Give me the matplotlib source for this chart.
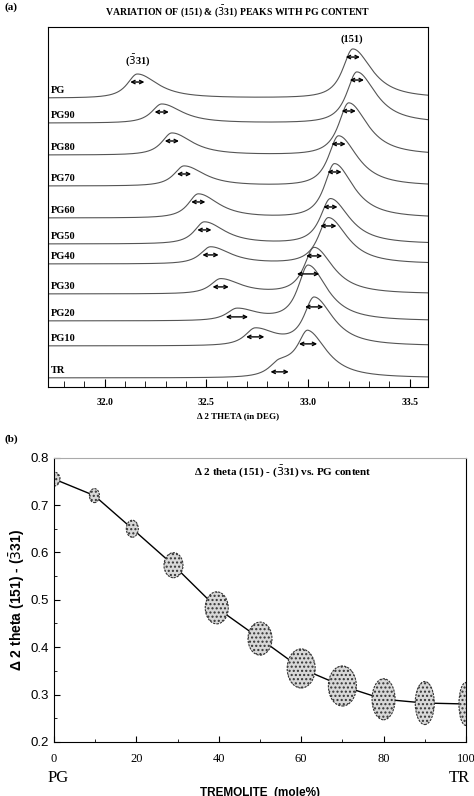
import numpy as np
import matplotlib
matplotlib.use("Agg")
import matplotlib.pyplot as plt
from matplotlib.patches import Ellipse
from matplotlib.ticker import MultipleLocator

# ---- panel (a) data ----
samples = ["PG", "PG90", "PG80", "PG70", "PG60", "PG50", "PG40", "PG30", "PG20", "PG10", "TR"]
baselines = [289, 264, 232, 201, 169, 143, 123, 93, 66, 41, 9]
pos331 = [32.16, 32.28, 32.33, 32.39, 32.46, 32.49, 32.52, 32.57, 32.65, 32.74, 32.86]
h331 = [24, 19, 22, 20, 24, 22, 17, 15, 12, 17, 14]
pos151 = [33.22, 33.24, 33.20, 33.15, 33.13, 33.11, 33.10, 33.03, 33.00, 33.03, 33.00]
h151 = [49, 51, 52, 50, 54, 45, 46, 46, 55, 47, 42]
arrow_w = [0.07, 0.07, 0.07, 0.07, 0.07, 0.07, 0.08, 0.08, 0.11, 0.09, 0.09]

# ---- panel (b) data ----
tremolite = [0, 9.8, 19, 29, 39.5, 50, 60, 70, 80, 90, 100]
delta = [0.755, 0.72, 0.65, 0.573, 0.483, 0.418, 0.355, 0.318, 0.29, 0.282, 0.28]
ell_w_px = [12, 10, 12, 19, 23, 24, 28, 28, 23, 19, 14]
ell_h_px = [14, 14, 17, 25, 32, 33, 39, 40, 41, 43, 43]

serif = "Liberation Serif"
plt.rcParams["hatch.color"] = "#aaaaaa"
fig = plt.figure(figsize=(4.74, 7.96), dpi=100)

# ---------- (a) ----------
ax = fig.add_axes([0.101, 0.514, 0.802, 0.452])
x = np.linspace(31.72, 33.59, 800)

def peak(x, c, h, wl, wr):
    w = np.where(x < c, wl, wr)
    return h / (1 + ((x - c) / w) ** 2) ** 1.3

for i, s in enumerate(samples):
    y = baselines[i] + peak(x, pos331[i], h331[i], 0.07, 0.14) + peak(x, pos151[i], h151[i], 0.07, 0.13)
    ax.plot(x, y, color="#555555", lw=0.8)
    ax.text(31.735, baselines[i] + 5, s, fontsize=7.5, fontweight="bold", family=serif)
    for c, h in ((pos331[i], h331[i]), (pos151[i], h151[i])):
        yy = baselines[i] + h - 8
        ax.annotate("", xy=(c - arrow_w[i] / 2, yy), xytext=(c + arrow_w[i] / 2, yy),
                    arrowprops=dict(arrowstyle="<->", color="black", lw=1.0, mutation_scale=6,
                                    shrinkA=0, shrinkB=0))
ax.text(pos331[0], baselines[0] + h331[0] + 10, "($\\bar{3}$31)", ha="center", fontsize=7.5, fontweight="bold", family=serif)
ax.text(pos151[0] - 0.005, baselines[0] + h151[0] + 7, "(151)", ha="center", fontsize=7.5, fontweight="bold", family=serif)
ax.set_xlim(31.72, 33.59)
ax.set_ylim(0, 360)
ax.set_yticks([])
ax.xaxis.set_minor_locator(MultipleLocator(0.1))
ax.set_xticks([32.0, 32.5, 33.0, 33.5])
ax.set_xticklabels(["32.0", "32.5", "33.0", "33.5"], fontsize=7, fontweight="bold", family=serif)
ax.tick_params(axis="x", which="both", direction="in", length=4, top=False, pad=8)
ax.tick_params(axis="x", which="major", length=6)
ax.set_xlabel("Δ 2 THETA (in DEG)", fontsize=6.5, fontweight="bold", family=serif, labelpad=4)
ax.set_title("VARIATION OF (151) & ($\\bar{3}$31) PEAKS WITH PG CONTENT", fontsize=7, fontweight="bold", family=serif, pad=9)
for sp in ax.spines.values():
    sp.set_linewidth(0.8)
fig.text(0.01, 0.988, "(a)", fontsize=8, fontweight="bold", family=serif)

# ---------- (b) ----------
bx = fig.add_axes([0.114, 0.068, 0.869, 0.357])
bx.plot(tremolite, delta, color="black", lw=1.0, zorder=1)
for xi, yi, wp, hp in zip(tremolite, delta, ell_w_px, ell_h_px):
    e = Ellipse((xi, yi), wp / 4.12, hp / 473.0, facecolor="#d8d8d8", edgecolor="#333333",
                lw=0.8, ls=(0, (2, 1)), hatch="....", zorder=2, clip_on=True)
    bx.add_patch(e)
bx.set_xlim(0, 100)
bx.set_ylim(0.2, 0.8)
bx.set_xticks([0, 20, 40, 60, 80, 100])
bx.set_yticks([0.2, 0.3, 0.4, 0.5, 0.6, 0.7, 0.8])
bx.set_xticklabels(["0", "20", "40", "60", "80", "100"], fontsize=9, family=serif)
bx.set_yticklabels(["0.2", "0.3", "0.4", "0.5", "0.6", "0.7", "0.8"], fontsize=9.5, family="Liberation Sans")
bx.xaxis.set_minor_locator(MultipleLocator(10))
bx.yaxis.set_minor_locator(MultipleLocator(0.05))
bx.tick_params(which="both", direction="in", top=False, right=False)
bx.tick_params(axis="x", which="major", length=4, pad=8)
bx.tick_params(axis="y", which="major", length=4)
bx.tick_params(which="minor", length=2.5)
bx.set_ylabel("Δ 2 theta (151) - ($\\bar{3}$31)", fontsize=10, fontweight="bold", family="Liberation Sans", labelpad=3)
bx.set_xlabel("TREMOLITE  (mole%)", fontsize=8.5, fontweight="bold", family="Liberation Sans", labelpad=16)
bx.text(34, 0.765, "Δ 2 theta (151) - ($\\bar{3}$31) vs. PG content", fontsize=8, fontweight="bold", family=serif)
bx.text(0.01, -0.14, "PG", transform=bx.transAxes, ha="center", fontsize=12, family=serif)
bx.text(0.985, -0.14, "TR", transform=bx.transAxes, ha="center", fontsize=12, family=serif)
bx.spines["top"].set_color("#aaaaaa")
fig.text(0.01, 0.445, "(b)", fontsize=8, fontweight="bold", family=serif)

fig.savefig("out.png", dpi=100)
